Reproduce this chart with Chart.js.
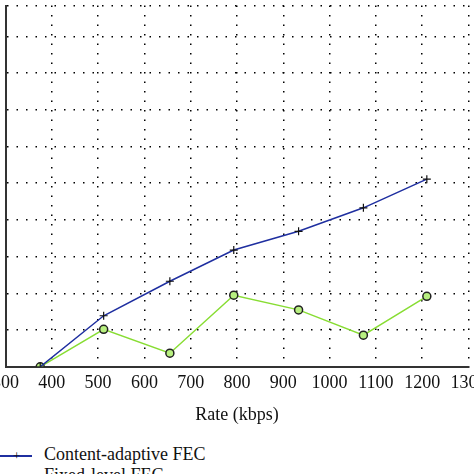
<!DOCTYPE html>
<html><head><meta charset="utf-8">
<script src="https://cdn.jsdelivr.net/npm/chart.js@4"></script>
<style>
html,body{margin:0;padding:0;width:474px;height:474px;overflow:hidden;background:#fff;font-family:"Liberation Serif",serif;}
#wrap{position:absolute;left:0;top:0;width:474px;height:430px;}
.leg{position:absolute;left:0;font-size:18px;color:#111;white-space:nowrap;}
</style></head><body>
<div id="wrap"><canvas id="c"></canvas></div>
<div class="leg" style="top:444px"><span style="display:inline-block;width:32px;height:2px;background:#1f2fa0;vertical-align:middle;position:relative;margin-right:12px"><span style="position:absolute;left:13px;top:-6px;font-size:13px;line-height:13px;color:#111">+</span></span>Content-adaptive FEC</div>
<div class="leg" style="top:465px"><span style="display:inline-block;width:32px;height:2px;vertical-align:middle;position:relative;margin-right:12px"><span style="position:absolute;left:13px;top:-2px;width:5px;height:5px;border-radius:50%;background:#111"></span></span>Fixed-level FEC</div>
<script>
const rates=[375,512,655,793,933,1073,1210];
const adaptive=[0,1.39,2.33,3.18,3.69,4.33,5.11];
const fixed=[0,1.02,0.37,1.95,1.55,0.86,1.92];
const xTicks=[300,400,500,600,700,800,900,1000,1100,1200,1300];
new Chart(document.getElementById('c'),{
type:'line',
data:{datasets:[
{label:'Content-adaptive FEC',data:rates.map((r,i)=>({x:r,y:adaptive[i]})),borderColor:'#1f2fa0',borderWidth:1.5,pointStyle:'cross',pointRadius:4,pointBorderColor:'#111',pointBorderWidth:1.2,tension:0},
{label:'Fixed-level FEC',data:rates.map((r,i)=>({x:r,y:fixed[i]})),borderColor:'#88dd33',borderWidth:1.5,pointStyle:'circle',pointRadius:4,pointBackgroundColor:'#b8f080',pointBorderColor:'#222',pointBorderWidth:1.5,tension:0}
]},
options:{responsive:true,maintainAspectRatio:false,animation:false,
layout:{padding:0},
plugins:{legend:{display:false},tooltip:{enabled:false}},
scales:{
x:{type:'linear',min:300,max:1300,afterBuildTicks:s=>{s.ticks=xTicks.map(v=>({value:v}));},
 afterFit:s=>{s.paddingLeft=0;s.paddingRight=0;},
 grid:{color:'#000',lineWidth:1.5,drawTicks:false},border:{display:true,color:'#333',width:2,dash:[1.5,8]},
 ticks:{color:'#111',font:{family:'Liberation Serif',size:18},padding:6,maxRotation:0,autoSkip:false,callback:v=>String(v)},
 title:{display:true,text:'Rate (kbps)',color:'#111',font:{family:'Liberation Serif',size:18},padding:{top:4}}},
y:{min:0,max:9.84,afterFit:s=>{s.width=0;s.paddingTop=0;s.paddingBottom=0;},ticks:{display:false,stepSize:1},
 grid:{color:'#000',lineWidth:1.5,drawTicks:false},border:{display:true,color:'#333',width:2,dash:[1.5,8]}}
}}
});
</script>
</body></html>
